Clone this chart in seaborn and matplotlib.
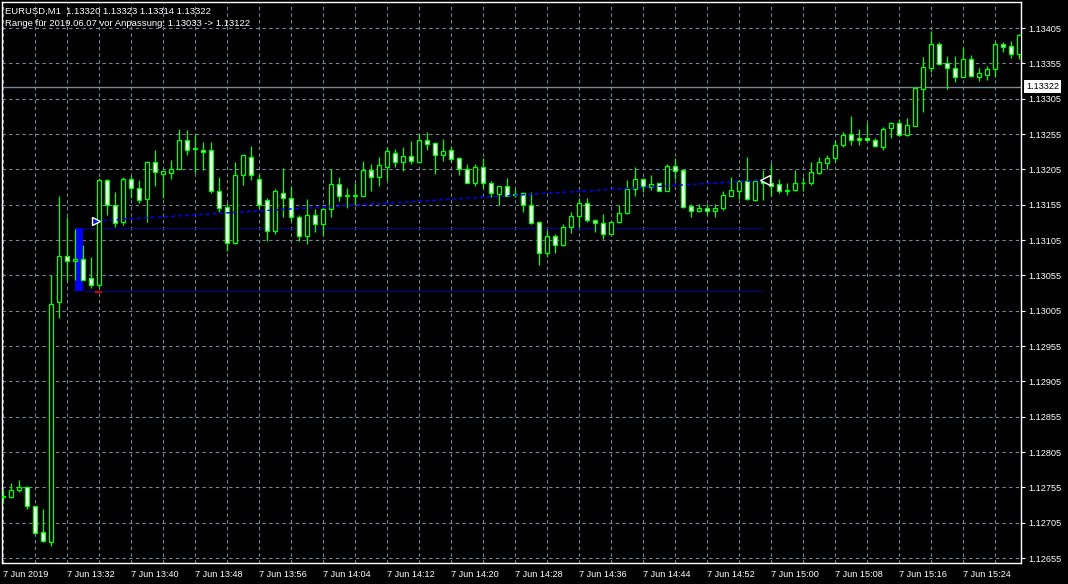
import matplotlib
matplotlib.use("Agg")
import matplotlib.pyplot as plt
from matplotlib.patches import Rectangle
import numpy as np
import seaborn as sns

# EURUSD M1 candles, 7 Jun 2019 13:24 .. 15:31 (one per minute)
opens = [
    1.12741, 1.12741, 1.12751, 1.12756, 1.12728, 1.12692, 1.12678, 1.13018,
    1.13083, 1.13076, 1.13078, 1.13051, 1.13041, 1.13190, 1.13155, 1.13130,
    1.13192, 1.13178, 1.13163, 1.13215, 1.13199, 1.13200, 1.13206, 1.13247,
    1.13234, 1.13233, 1.13232, 1.13175, 1.13152, 1.13101, 1.13197, 1.13223,
    1.13192, 1.13162, 1.13118, 1.13172, 1.13165, 1.13137, 1.13110, 1.13140,
    1.13127, 1.13149, 1.13184, 1.13169, 1.13169, 1.13168, 1.13204, 1.13194,
    1.13208, 1.13228, 1.13216, 1.13224, 1.13216, 1.13247, 1.13242, 1.13226,
    1.13232, 1.13221, 1.13206, 1.13186, 1.13209, 1.13185, 1.13170, 1.13182,
    1.13169, 1.13171, 1.13155, 1.13130, 1.13086, 1.13110, 1.13098, 1.13123,
    1.13139, 1.13158, 1.13134, 1.13129, 1.13114, 1.13130, 1.13143, 1.13177,
    1.13192, 1.13180, 1.13185, 1.13175, 1.13210, 1.13204, 1.13153, 1.13146,
    1.13151, 1.13146, 1.13151, 1.13168, 1.13175, 1.13188, 1.13161, 1.13189,
    1.13185, 1.13184, 1.13175, 1.13176, 1.13185, 1.13186, 1.13200, 1.13214,
    1.13221, 1.13240, 1.13255, 1.13250, 1.13250, 1.13247, 1.13237, 1.13263,
    1.13271, 1.13253, 1.13267, 1.13318, 1.13348, 1.13383, 1.13355, 1.13348,
    1.13336, 1.13361, 1.13336, 1.13339, 1.13347, 1.13383, 1.13379, 1.13368,
]
highs = [
    1.12751, 1.12761, 1.12765, 1.12757, 1.12729, 1.12724, 1.13055, 1.13167,
    1.13137, 1.13121, 1.13098, 1.13081, 1.13193, 1.13192, 1.13173, 1.13194,
    1.13195, 1.13190, 1.13217, 1.13232, 1.13204, 1.13218, 1.13262, 1.13261,
    1.13254, 1.13243, 1.13244, 1.13194, 1.13158, 1.13215, 1.13226, 1.13238,
    1.13198, 1.13165, 1.13177, 1.13207, 1.13181, 1.13140, 1.13163, 1.13149,
    1.13150, 1.13206, 1.13194, 1.13178, 1.13185, 1.13217, 1.13213, 1.13222,
    1.13237, 1.13234, 1.13237, 1.13245, 1.13255, 1.13258, 1.13243, 1.13248,
    1.13238, 1.13222, 1.13212, 1.13212, 1.13221, 1.13188, 1.13182, 1.13193,
    1.13177, 1.13173, 1.13173, 1.13132, 1.13119, 1.13114, 1.13127, 1.13144,
    1.13165, 1.13165, 1.13135, 1.13142, 1.13132, 1.13155, 1.13190, 1.13209,
    1.13193, 1.13197, 1.13186, 1.13213, 1.13221, 1.13205, 1.13156, 1.13156,
    1.13156, 1.13156, 1.13174, 1.13194, 1.13189, 1.13223, 1.13192, 1.13204,
    1.13214, 1.13192, 1.13185, 1.13204, 1.13194, 1.13216, 1.13223, 1.13225,
    1.13247, 1.13258, 1.13280, 1.13262, 1.13271, 1.13250, 1.13265, 1.13272,
    1.13276, 1.13277, 1.13321, 1.13364, 1.13401, 1.13385, 1.13365, 1.13365,
    1.13378, 1.13367, 1.13349, 1.13351, 1.13385, 1.13385, 1.13387, 1.13396,
]
lows = [
    1.12733, 1.12740, 1.12749, 1.12725, 1.12689, 1.12678, 1.12672, 1.12994,
    1.13047, 1.13048, 1.13048, 1.13037, 1.13038, 1.13140, 1.13124, 1.13126,
    1.13165, 1.13158, 1.13131, 1.13181, 1.13165, 1.13191, 1.13205, 1.13225,
    1.13200, 1.13204, 1.13172, 1.13144, 1.13089, 1.13100, 1.13183, 1.13190,
    1.13151, 1.13103, 1.13113, 1.13138, 1.13132, 1.13103, 1.13099, 1.13117,
    1.13112, 1.13138, 1.13160, 1.13151, 1.13155, 1.13167, 1.13175, 1.13182,
    1.13190, 1.13209, 1.13203, 1.13213, 1.13215, 1.13232, 1.13198, 1.13217,
    1.13216, 1.13197, 1.13185, 1.13182, 1.13178, 1.13166, 1.13154, 1.13167,
    1.13166, 1.13145, 1.13128, 1.13070, 1.13081, 1.13086, 1.13097, 1.13115,
    1.13124, 1.13131, 1.13117, 1.13106, 1.13113, 1.13129, 1.13142, 1.13167,
    1.13173, 1.13176, 1.13175, 1.13174, 1.13192, 1.13151, 1.13138, 1.13145,
    1.13140, 1.13138, 1.13147, 1.13167, 1.13163, 1.13162, 1.13160, 1.13162,
    1.13167, 1.13171, 1.13169, 1.13175, 1.13175, 1.13183, 1.13199, 1.13206,
    1.13216, 1.13237, 1.13240, 1.13240, 1.13246, 1.13236, 1.13233, 1.13250,
    1.13252, 1.13252, 1.13266, 1.13286, 1.13343, 1.13353, 1.13318, 1.13329,
    1.13335, 1.13335, 1.13330, 1.13331, 1.13336, 1.13371, 1.13363, 1.13361,
]
closes = [
    1.12743, 1.12751, 1.12756, 1.12728, 1.12690, 1.12679, 1.13014, 1.13082,
    1.13076, 1.13078, 1.13049, 1.13042, 1.13190, 1.13155, 1.13129, 1.13192,
    1.13179, 1.13162, 1.13215, 1.13201, 1.13203, 1.13206, 1.13247, 1.13233,
    1.13235, 1.13230, 1.13175, 1.13151, 1.13101, 1.13197, 1.13225, 1.13197,
    1.13154, 1.13118, 1.13174, 1.13165, 1.13137, 1.13110, 1.13141, 1.13127,
    1.13149, 1.13184, 1.13167, 1.13167, 1.13167, 1.13204, 1.13194, 1.13211,
    1.13231, 1.13216, 1.13224, 1.13217, 1.13247, 1.13241, 1.13226, 1.13231,
    1.13220, 1.13206, 1.13186, 1.13209, 1.13185, 1.13171, 1.13181, 1.13168,
    1.13170, 1.13155, 1.13129, 1.13086, 1.13110, 1.13098, 1.13123, 1.13139,
    1.13158, 1.13134, 1.13129, 1.13114, 1.13131, 1.13143, 1.13177, 1.13192,
    1.13182, 1.13184, 1.13175, 1.13210, 1.13203, 1.13152, 1.13146, 1.13151,
    1.13146, 1.13151, 1.13169, 1.13176, 1.13188, 1.13163, 1.13189, 1.13185,
    1.13182, 1.13175, 1.13176, 1.13185, 1.13186, 1.13201, 1.13215, 1.13221,
    1.13240, 1.13254, 1.13247, 1.13247, 1.13247, 1.13238, 1.13262, 1.13270,
    1.13253, 1.13268, 1.13320, 1.13350, 1.13383, 1.13354, 1.13348, 1.13336,
    1.13361, 1.13337, 1.13342, 1.13347, 1.13382, 1.13378, 1.13368, 1.13395,
]

time_labels = ["7 Jun 2019", "7 Jun 13:32", "7 Jun 13:40", "7 Jun 13:48",
               "7 Jun 13:56", "7 Jun 14:04", "7 Jun 14:12", "7 Jun 14:20",
               "7 Jun 14:28", "7 Jun 14:36", "7 Jun 14:44", "7 Jun 14:52",
               "7 Jun 15:00", "7 Jun 15:08", "7 Jun 15:16", "7 Jun 15:24"]
price_ticks = [1.12655, 1.12705, 1.12755, 1.12805, 1.12855, 1.12905, 1.12955,
               1.13005, 1.13055, 1.13105, 1.13155, 1.13205, 1.13255, 1.13305,
               1.13355, 1.13405]

# range box and adjustment line
range_low = 1.13033
range_high = 1.13122
range_bar = 9          # candle index of the range box
range_end = 95         # where the range lines stop
adj_x = [11.6, 95.2]
adj_y = [1.13132, 1.13190]
last_price = 1.13322

header1 = "EURUSD,M1  1.13320 1.13323 1.13314 1.13322"
header2 = "Range für 2019.06.07 vor Anpassung: 1.13033 -> 1.13122"

sns.set_style("dark", {"axes.facecolor": "black", "figure.facecolor": "black"})
plt.rcParams["font.family"] = ["Liberation Sans", "DejaVu Sans"]

green = "#00ff00"
grid_col = "#778899"

fig = plt.figure(figsize=(10.68, 5.84), dpi=100)
fig.patch.set_facecolor("black")
ax = fig.add_axes([2 / 1068, 21 / 584, 1019 / 1068, 561 / 584])
ax.set_facecolor("black")

o = np.array(opens)
h = np.array(highs)
l = np.array(lows)
c = np.array(closes)
x = np.arange(len(o))
up = c >= o

# grid
for gx in range(0, 128, 4):
    ax.axvline(gx, color=grid_col, lw=0.8, ls=(0, (3, 3)), zorder=0)
for gy in price_ticks:
    ax.axhline(gy, color=grid_col, lw=0.8, ls=(0, (3, 3)), zorder=0)

# current price line
ax.axhline(last_price, color=grid_col, lw=1, zorder=1)

# range box + lines
ax.add_patch(Rectangle((range_bar, range_low), 1, range_high - range_low,
                       facecolor="#0000ff", edgecolor="none", zorder=1))
ax.hlines([range_low, range_high], range_bar + 1, range_end, color="#0000c0",
          lw=0.6, zorder=1)

# candles
ax.vlines(x, l, h, color=green, lw=0.9, zorder=2)
ax.bar(x, c - o, bottom=o, width=0.62,
       color=np.where(up, "black", "white"), edgecolor=green,
       linewidth=0.9, zorder=3)

# adjustment line and markers
sns.lineplot(x=adj_x, y=adj_y, ax=ax, color="#0000ff", lw=1.1,
             linestyle=(0, (2.5, 2)), zorder=4)
ax.plot(adj_x[0], adj_y[0], marker=">", ms=6, mfc="#0000ff", mec="white",
        mew=1, zorder=5)
ax.plot(adj_x[1], adj_y[1], marker="<", ms=7, mfc="black", mec="white",
        mew=1, zorder=5)
ax.hlines(range_low - 0.00002, adj_x[0] - 0.1, adj_x[0] + 0.8, color="red",
          lw=1.2, zorder=5)

ax.set_xlim(-0.125, 127.25)
ax.set_ylim(1.12648, 1.134418)

ax.set_xticks(np.arange(0, 128, 8))
ax.set_xticks(np.arange(4, 128, 8), minor=True)
ax.set_xticklabels(time_labels, ha="left")
ax.yaxis.tick_right()
ax.set_yticks(price_ticks)
ax.set_yticklabels([f"{p:.5f}" for p in price_ticks])
ax.tick_params(axis="both", which="both", colors="white", labelcolor="white",
               labelsize=6.6, direction="out")
ax.tick_params(axis="x", which="major", length=3, pad=2)
ax.tick_params(axis="x", which="minor", length=2)
ax.tick_params(axis="y", length=3, pad=2.5)
ax.grid(False)
for s in ax.spines.values():
    s.set_color("white")
    s.set_linewidth(1)
    s.set_visible(True)

ax.text(1.0 + 5 / 1019, last_price, f"{last_price:.5f}",
        transform=ax.get_yaxis_transform(), ha="left", va="center",
        fontsize=6.6, color="black", clip_on=False, zorder=6,
        bbox=dict(boxstyle="square,pad=0.25", fc="white", ec="none"))

fig.text(5 / 1068, 1 - 11 / 584, header1, color="white", fontsize=6.8,
         va="center", ha="left")
fig.text(5 / 1068, 1 - 23 / 584, header2, color="white", fontsize=6.8,
         va="center", ha="left")

fig.savefig("out.png", dpi=100, facecolor="black")
